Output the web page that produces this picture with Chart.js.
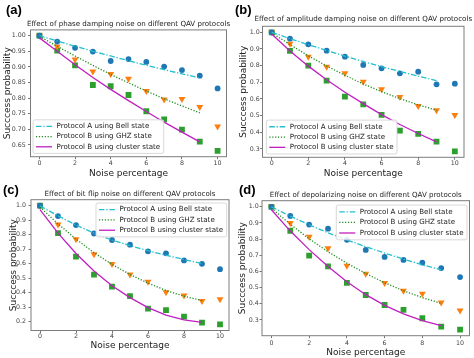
<!DOCTYPE html>
<html><head><meta charset="utf-8">
<script src="https://cdn.jsdelivr.net/npm/chart.js@4.4.1/dist/chart.umd.min.js"></script>
<style>
html,body{margin:0;padding:0;background:#fff;}
#wrap{position:relative;width:474px;height:358px;overflow:hidden;background:#fff;}
canvas{position:absolute;}
.lab{position:absolute;font:bold 13px "Liberation Sans", Arial, sans-serif;color:#000;line-height:13px;white-space:nowrap;}
</style></head><body>
<div id="wrap">
<canvas id="cA" width="237" height="179" style="left:0;top:0"></canvas>
<canvas id="cB" width="237" height="179" style="left:237px;top:0"></canvas>
<canvas id="cC" width="237" height="179" style="left:0;top:179px"></canvas>
<canvas id="cD" width="237" height="179" style="left:237px;top:179px"></canvas>
<div class="lab" style="left:6px;top:3px">(a)</div>
<div class="lab" style="left:235px;top:3px">(b)</div>
<div class="lab" style="left:3px;top:183px">(c)</div>
<div class="lab" style="left:239px;top:183px">(d)</div>
</div>
<script>
// ---------- data ----------
const noise = [0, 1, 2, 3, 4, 5, 6, 7, 8, 9, 10];
const fitNoise = [0, 1, 2, 3, 4, 5, 6, 7, 8, 9];
const xTicks = [0, 2, 4, 6, 8, 10];
const seriesNames = ['Protocol A using Bell state', 'Protocol B using GHZ state', 'Protocol B using cluster state'];
const titles = [
  'Effect of phase damping noise on different QAV protocols',
  'Effect of amplitude damping noise on different QAV protocols',
  'Effect of bit flip noise on different QAV protocols',
  'Effect of depolarizing noise on different QAV protocols'
];
const xAxisTitle = 'Noise percentage';
const yAxisTitle = 'Succcess probability';

// (a) phase damping
const aBell = [1.00, 0.981, 0.961, 0.949, 0.919, 0.925, 0.916, 0.901, 0.890, 0.872, 0.831];
const aGhz = [1.00, 0.965, 0.924, 0.885, 0.877, 0.862, 0.823, 0.796, 0.797, 0.772, 0.709];
const aCluster = [1.00, 0.952, 0.905, 0.842, 0.838, 0.810, 0.758, 0.732, 0.699, 0.661, 0.631];
const aBellFit = [1.000, 0.983, 0.966, 0.950, 0.935, 0.920, 0.905, 0.891, 0.878, 0.865];
const aGhzFit = [0.998, 0.966, 0.935, 0.905, 0.876, 0.849, 0.823, 0.798, 0.775, 0.753];
const aClusterFit = [0.993, 0.950, 0.907, 0.866, 0.828, 0.792, 0.757, 0.723, 0.691, 0.660];
const aYTicks = [0.65, 0.70, 0.75, 0.80, 0.85, 0.90, 0.95, 1.00];

// (b) amplitude damping
const bBell = [1.0, 0.962, 0.928, 0.890, 0.854, 0.804, 0.784, 0.754, 0.764, 0.688, 0.692];
const bGhz = [1.0, 0.932, 0.854, 0.794, 0.754, 0.704, 0.658, 0.612, 0.558, 0.532, 0.504];
const bCluster = [1.0, 0.888, 0.800, 0.710, 0.614, 0.568, 0.504, 0.410, 0.390, 0.344, 0.286];
const bBellFit = [1.0, 0.962, 0.926, 0.891, 0.857, 0.825, 0.794, 0.765, 0.737, 0.710];
const bGhzFit = [0.997, 0.926, 0.859, 0.798, 0.742, 0.690, 0.644, 0.602, 0.565, 0.532];
const bClusterFit = [0.990, 0.888, 0.797, 0.715, 0.640, 0.572, 0.506, 0.447, 0.393, 0.343];
const bYTicks = [0.3, 0.4, 0.5, 0.6, 0.7, 0.8, 0.9, 1.0];

// (c) bit flip
const cBell = [1.0, 0.928, 0.866, 0.808, 0.763, 0.731, 0.685, 0.671, 0.622, 0.599, 0.562];
const cGhz = [1.0, 0.870, 0.768, 0.664, 0.597, 0.525, 0.476, 0.402, 0.381, 0.342, 0.355];
const cCluster = [1.0, 0.810, 0.648, 0.525, 0.441, 0.376, 0.290, 0.279, 0.235, 0.193, 0.181];
const cBellFit = [0.998, 0.930, 0.866, 0.810, 0.763, 0.724, 0.689, 0.658, 0.629, 0.600];
const cGhzFit = [0.990, 0.874, 0.770, 0.676, 0.595, 0.525, 0.466, 0.415, 0.376, 0.345];
const cClusterFit = [0.972, 0.810, 0.670, 0.550, 0.447, 0.366, 0.297, 0.245, 0.212, 0.195];
const cYTicks = [0.2, 0.3, 0.4, 0.5, 0.6, 0.7, 0.8, 0.9, 1.0];

// (d) depolarizing
const dBell = [1.0, 0.944, 0.890, 0.865, 0.796, 0.733, 0.690, 0.671, 0.654, 0.621, 0.565];
const dGhz = [1.0, 0.900, 0.815, 0.744, 0.635, 0.585, 0.529, 0.481, 0.462, 0.408, 0.358];
const dCluster = [1.0, 0.852, 0.698, 0.631, 0.529, 0.454, 0.392, 0.362, 0.310, 0.258, 0.240];
const dBellFit = [1.0, 0.942, 0.889, 0.839, 0.795, 0.753, 0.714, 0.676, 0.641, 0.610];
const dGhzFit = [0.992, 0.892, 0.802, 0.722, 0.651, 0.587, 0.530, 0.480, 0.438, 0.402];
const dClusterFit = [0.982, 0.850, 0.735, 0.630, 0.536, 0.456, 0.390, 0.337, 0.295, 0.265];
const dYTicks = [0.3, 0.4, 0.5, 0.6, 0.7, 0.8, 0.9, 1.0];

// ---------- styles ----------
const FONT = 'DejaVu Sans';
const COL = {
  bellPt: '#1f77b4', ghzPt: '#ff7f0e', clusterPt: '#2ca02c',
  bellLine: '#22c0cc', ghzLine: '#1e8c1e', clusterLine: '#c020c0'
};
const W = 237, H = 179;

function pts(xs, ys) { return xs.map((x, i) => ({ x: x, y: ys[i] })); }

const deco = {
  id: 'deco',
  afterDraw(chart, args, o) {
    const ctx = chart.ctx, ca = chart.chartArea;
    ctx.save();
    // spines
    ctx.strokeStyle = '#7c7c7c';
    ctx.lineWidth = 1;
    ctx.strokeRect(ca.left, ca.top, ca.right - ca.left, ca.bottom - ca.top);
    // title
    ctx.fillStyle = '#222';
    ctx.font = '7.1px "' + FONT + '"';
    ctx.textAlign = 'center';
    ctx.textBaseline = 'middle';
    ctx.fillText(o.title, (ca.left + ca.right) / 2, o.titleY);
    // legend
    const items = chart.data.datasets.filter(d => d.showLine);
    const tw = Math.max(...items.map(d => ctx.measureText(d.label).width));
    const rowH = o.rowH;
    const w = 23.5 + tw + 3.5, h = 3 * rowH + 3;
    let x, y;
    if (o.loc === 'lower left') { x = ca.left + o.dx; y = ca.bottom - o.dy - h; }
    else { x = ca.right - o.dx - w; y = ca.top + o.dy; }
    ctx.beginPath();
    if (ctx.roundRect) ctx.roundRect(x, y, w, h, 2); else ctx.rect(x, y, w, h);
    ctx.fillStyle = 'rgba(255,255,255,0.85)';
    ctx.fill();
    ctx.strokeStyle = '#cfcfcf';
    ctx.lineWidth = 0.8;
    ctx.stroke();
    ctx.textAlign = 'left';
    items.forEach((d, i) => {
      const cy = y + 1.5 + rowH * (i + 0.5);
      ctx.beginPath();
      ctx.setLineDash(d.borderDash || []);
      ctx.strokeStyle = d.borderColor;
      ctx.lineWidth = d.borderWidth;
      ctx.moveTo(x + 3, cy);
      ctx.lineTo(x + 19, cy);
      ctx.stroke();
      ctx.setLineDash([]);
      ctx.fillStyle = '#222';
      ctx.fillText(d.label, x + 23.5, cy);
    });
    ctx.restore();
  }
};

function makePanel(id, p) {
  const datasets = [
    { label: seriesNames[0], data: pts(fitNoise, p.bellFit), showLine: true, borderColor: COL.bellLine, borderWidth: 1.3, borderDash: [5.5, 1.8, 1.3, 1.8], pointRadius: 0, tension: 0, order: 0 },
    { label: seriesNames[1], data: pts(fitNoise, p.ghzFit), showLine: true, borderColor: COL.ghzLine, borderWidth: 1.3, borderDash: [1.2, 1.7], pointRadius: 0, tension: 0, order: 0 },
    { label: seriesNames[2], data: pts(fitNoise, p.clusterFit), showLine: true, borderColor: COL.clusterLine, borderWidth: 1.3, borderDash: [], pointRadius: 0, tension: 0, order: 0 },
    { label: 'Bell', data: pts(noise, p.bell), showLine: false, pointStyle: 'circle', pointRadius: 2.9, backgroundColor: COL.bellPt, borderWidth: 0, order: 1 },
    { label: 'GHZ', data: pts(noise, p.ghz), showLine: false, pointStyle: 'triangle', pointRotation: 180, pointRadius: 4, backgroundColor: COL.ghzPt, borderWidth: 0, order: 1 },
    { label: 'Cluster', data: pts(noise, p.cluster), showLine: false, pointStyle: 'rect', pointRadius: 4.1, backgroundColor: COL.clusterPt, borderWidth: 0, order: 1 }
  ];
  const A = p.area;
  new Chart(document.getElementById(id), {
    type: 'scatter',
    data: { datasets: datasets },
    plugins: [deco],
    options: {
      responsive: false, animation: false, devicePixelRatio: 1, events: [],
      layout: { padding: { left: 0, top: A.t, right: W - A.r, bottom: 0 } },
      plugins: {
        legend: { display: false }, title: { display: false }, tooltip: { enabled: false },
        deco: { title: p.title, titleY: p.titleY, loc: p.loc, dx: p.ldx, dy: p.ldy, rowH: p.rowH }
      },
      scales: {
        x: {
          type: 'linear', min: -0.5, max: 10.5, bounds: 'data',
          afterBuildTicks: s => { s.ticks = xTicks.map(v => ({ value: v })); },
          afterFit: s => { s.height = H - A.b; },
          grid: { drawOnChartArea: false, drawTicks: true, tickLength: 2.5, color: '#555', lineWidth: 0.8 },
          border: { display: false },
          ticks: { autoSkip: false, maxRotation: 0, padding: p.xTickPad, color: '#444', font: { family: FONT, size: 6.3 }, callback: v => String(v) },
          title: { display: true, text: xAxisTitle, color: '#222', font: { family: FONT, size: 9 }, padding: { top: 0, bottom: p.xTitlePad } }
        },
        y: {
          type: 'linear', min: p.yMin, max: p.yMax, bounds: 'data',
          afterBuildTicks: s => { s.ticks = p.yTicks.map(v => ({ value: v })); },
          afterFit: s => { s.width = A.l; },
          grid: { drawOnChartArea: false, drawTicks: true, tickLength: 2.5, color: '#555', lineWidth: 0.8 },
          border: { display: false },
          ticks: { autoSkip: false, padding: p.yTickPad, color: '#444', font: { family: FONT, size: 6.3 }, callback: v => v.toFixed(p.dec) },
          title: { display: true, text: yAxisTitle, color: '#222', font: { family: FONT, size: 9 }, padding: { top: p.yTitlePad, bottom: 0 } }
        }
      }
    }
  });
}

makePanel('cA', { title: titles[0], titleY: 24.3, area: { l: 30.5, r: 226.5, t: 29.9, b: 156.7 },
  yMin: 0.6125, yMax: 1.0185, yTicks: aYTicks, dec: 2,
  bell: aBell, ghz: aGhz, cluster: aCluster, bellFit: aBellFit, ghzFit: aGhzFit, clusterFit: aClusterFit,
  loc: 'lower left', ldx: 2.5, ldy: 3.3, rowH: 10.2, xTickPad: 0, yTickPad: 2.3, xTitlePad: 0.1, yTitlePad: 2.1 });
makePanel('cB', { title: titles[1], titleY: 19, area: { l: 25.5, r: 227, t: 26.3, b: 157.3 },
  yMin: 0.25, yMax: 1.036, yTicks: bYTicks, dec: 1,
  bell: bBell, ghz: bGhz, cluster: bCluster, bellFit: bBellFit, ghzFit: bGhzFit, clusterFit: bClusterFit,
  loc: 'lower left', ldx: 3.8, ldy: 3.3, rowH: 10.3, xTickPad: 0, yTickPad: 0.3, xTitlePad: 0.3, yTitlePad: 1.1 });
makePanel('cC', { title: titles[2], titleY: 15, area: { l: 31, r: 229, t: 20.7, b: 151.5 },
  yMin: 0.139, yMax: 1.041, yTicks: cYTicks, dec: 1,
  bell: cBell, ghz: cGhz, cluster: cCluster, bellFit: cBellFit, ghzFit: cGhzFit, clusterFit: cClusterFit,
  loc: 'upper right', ldx: 2.3, ldy: 3.3, rowH: 10.3, xTickPad: 0, yTickPad: 2.5, xTitlePad: 6.9, yTitlePad: 7.9 });
makePanel('cD', { title: titles[3], titleY: 15.7, area: { l: 25, r: 232.5, t: 21.7, b: 156.7 },
  yMin: 0.202, yMax: 1.038, yTicks: dYTicks, dec: 1,
  bell: dBell, ghz: dGhz, cluster: dCluster, bellFit: dBellFit, ghzFit: dGhzFit, clusterFit: dClusterFit,
  loc: 'upper right', ldx: 2.5, ldy: 4.3, rowH: 10.6, xTickPad: 1.5, yTickPad: 0.8, xTitlePad: 0.3, yTitlePad: 0.6 });
</script>
</body></html>
